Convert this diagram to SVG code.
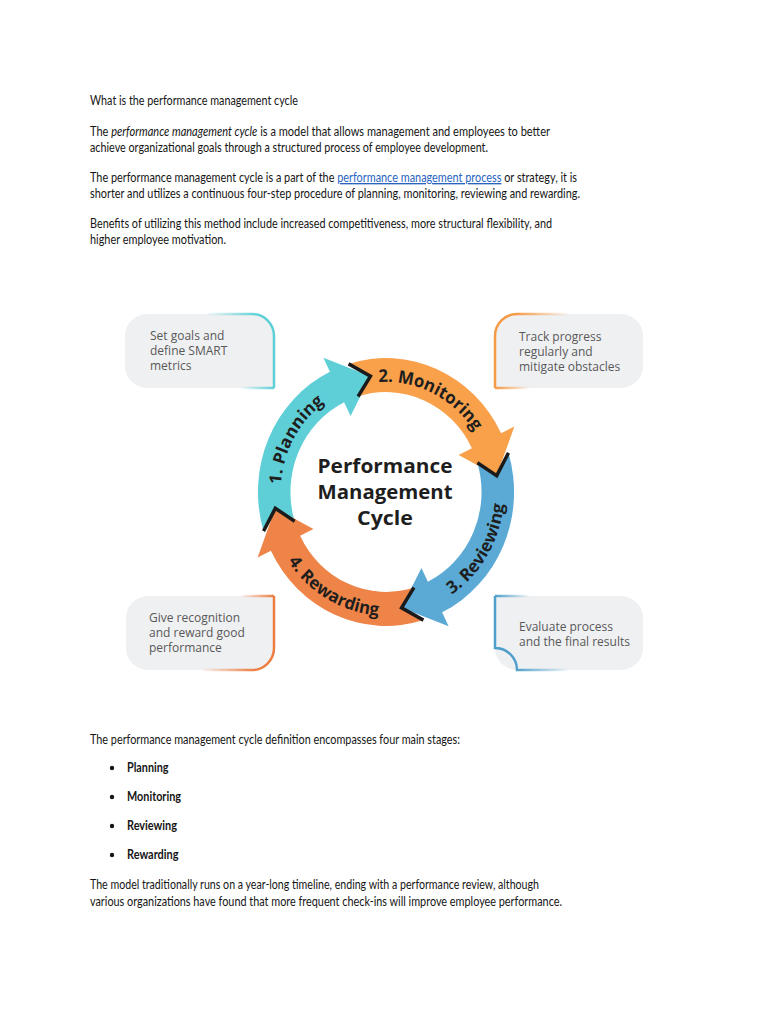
<svg xmlns="http://www.w3.org/2000/svg" width="768" height="1024" viewBox="0 0 768 1024">
<style>
.doc{font-family:Lato,"Liberation Sans",sans-serif;font-size:13.5px;fill:#151515}
.b{font-weight:700}
.it{font-style:italic}
.link{fill:#2a64c0;text-decoration:underline}
.box{fill:#eff0f2}
.bt{font-family:"Open Sans","Liberation Sans",sans-serif;font-size:12px;fill:#585858}
.arcT{font-family:"Open Sans","Liberation Sans",sans-serif;font-size:17px;font-weight:700;fill:#1e1e1e}
.ctr{font-family:"Open Sans","Liberation Sans",sans-serif;font-size:19.5px;font-weight:700;fill:#1e1e1e;text-anchor:middle}
.shadow{fill:none;stroke:#1b1b1b;stroke-width:3.5;stroke-linejoin:miter}
.bord{fill:none;stroke-width:2.5}
</style>
<defs>
<linearGradient id="gTeal" gradientUnits="userSpaceOnUse" x1="205" y1="0" x2="258" y2="0"><stop offset="0" stop-color="#5ecfd7" stop-opacity="0"/><stop offset="1" stop-color="#5ecfd7"/></linearGradient>
<linearGradient id="gTealB" gradientUnits="userSpaceOnUse" x1="240" y1="0" x2="274" y2="0"><stop offset="0" stop-color="#5ecfd7" stop-opacity="0"/><stop offset="1" stop-color="#5ecfd7"/></linearGradient>
<linearGradient id="gOr" gradientUnits="userSpaceOnUse" x1="515" y1="0" x2="570" y2="0"><stop offset="0" stop-color="#f59a45"/><stop offset="1" stop-color="#f59a45" stop-opacity="0"/></linearGradient>
<linearGradient id="gOrB" gradientUnits="userSpaceOnUse" x1="495" y1="0" x2="530" y2="0"><stop offset="0" stop-color="#f59a45"/><stop offset="1" stop-color="#f59a45" stop-opacity="0"/></linearGradient>
<linearGradient id="gRd" gradientUnits="userSpaceOnUse" x1="200" y1="0" x2="255" y2="0"><stop offset="0" stop-color="#ec7e42" stop-opacity="0"/><stop offset="1" stop-color="#ec7e42"/></linearGradient>
<linearGradient id="gRdT" gradientUnits="userSpaceOnUse" x1="240" y1="0" x2="274" y2="0"><stop offset="0" stop-color="#ec7e42" stop-opacity="0"/><stop offset="1" stop-color="#ec7e42"/></linearGradient>
<linearGradient id="gBl" gradientUnits="userSpaceOnUse" x1="515" y1="0" x2="570" y2="0"><stop offset="0" stop-color="#4f9fcb"/><stop offset="1" stop-color="#4f9fcb" stop-opacity="0"/></linearGradient>
<linearGradient id="gBlT" gradientUnits="userSpaceOnUse" x1="495" y1="0" x2="530" y2="0"><stop offset="0" stop-color="#4f9fcb"/><stop offset="1" stop-color="#4f9fcb" stop-opacity="0"/></linearGradient>
<path id="cw" d="M -107 0 A 107 107 0 0 1 107 0 A 107 107 0 0 1 -107 0"/>
<path id="ccw" d="M -120 0 A 120 120 0 0 0 120 0 A 120 120 0 0 0 -120 0"/>
</defs>
<rect width="768" height="1024" fill="#ffffff"/>

<g id="intro-text" class="doc">
<text x="90" y="105" textLength="208" lengthAdjust="spacingAndGlyphs">What is the performance management cycle</text>
<text x="90" y="136" textLength="460" lengthAdjust="spacingAndGlyphs">The <tspan class="it">performance management cycle</tspan> is a model that allows management and employees to better</text>
<text x="90" y="152" textLength="398" lengthAdjust="spacingAndGlyphs">achieve organizational goals through a structured process of employee development.</text>
<text x="90" y="182" textLength="487" lengthAdjust="spacingAndGlyphs">The performance management cycle is a part of the <tspan class="link">performance management process</tspan> or strategy, it is</text>
<text x="90" y="198" textLength="490" lengthAdjust="spacingAndGlyphs">shorter and utilizes a continuous four-step procedure of planning, monitoring, reviewing and rewarding.</text>
<text x="90" y="228" textLength="462" lengthAdjust="spacingAndGlyphs">Benefits of utilizing this method include increased competitiveness, more structural flexibility, and</text>
<text x="90" y="244" textLength="136" lengthAdjust="spacingAndGlyphs">higher employee motivation.</text>
</g>

<g id="box-planning">
<path class="box" d="M 147 314 H 252 A 22 22 0 0 1 274 336 V 388 H 147 A 22 22 0 0 1 125 366 V 336 A 22 22 0 0 1 147 314 Z"/>
<path class="bord" stroke="url(#gTeal)" d="M 200 314 H 252 A 22 22 0 0 1 274 336 V 388"/>
<path class="bord" stroke="url(#gTealB)" d="M 274 388 H 240"/>
<text class="bt" x="150" y="340">Set goals and</text>
<text class="bt" x="150" y="355">define SMART</text>
<text class="bt" x="150" y="370">metrics</text>
</g>
<g id="box-monitoring">
<path class="box" d="M 495 336 A 22 22 0 0 1 517 314 H 621 A 22 22 0 0 1 643 336 V 366 A 22 22 0 0 1 621 388 H 495 Z"/>
<path class="bord" stroke="url(#gOr)" d="M 495 388 V 336 A 22 22 0 0 1 517 314 H 575"/>
<path class="bord" stroke="url(#gOrB)" d="M 495 388 H 530"/>
<text class="bt" x="519" y="341">Track progress</text>
<text class="bt" x="519" y="356">regularly and</text>
<text class="bt" x="519" y="371">mitigate obstacles</text>
</g>
<g id="box-rewarding">
<path class="box" d="M 148 596 H 274 V 648 A 22 22 0 0 1 252 670 H 148 A 22 22 0 0 1 126 648 V 618 A 22 22 0 0 1 148 596 Z"/>
<path class="bord" stroke="url(#gRd)" d="M 274 596 V 648 A 22 22 0 0 1 252 670 H 195"/>
<path class="bord" stroke="url(#gRdT)" d="M 274 596 H 240"/>
<text class="bt" x="149" y="622">Give recognition</text>
<text class="bt" x="149" y="637">and reward good</text>
<text class="bt" x="149" y="652">performance</text>
</g>
<g id="box-reviewing">
<path class="box" d="M 495 596 H 621 A 22 22 0 0 1 643 618 V 648 A 22 22 0 0 1 621 670 H 517 A 22 22 0 0 1 495 648 Z"/>
<path class="bord" stroke="url(#gBl)" d="M 495 596 V 648 A 22 22 0 0 1 517 670 H 575"/>
<path class="bord" stroke="url(#gBlT)" d="M 495 596 H 530"/>
<text class="bt" x="519" y="631">Evaluate process</text>
<text class="bt" x="519" y="646">and the final results</text>
</g>

<g id="cycle" transform="translate(386,492) scale(0.985,1.03)">
<g id="stage-planning">
<path fill="#5ecfd7" d="M -124.32 38.01 A 130 130 0 0 1 -56.99 -116.84 L -63.56 -130.32 L -15.80 -112.40 L -35.95 -73.70 L -42.52 -87.18 A 97 97 0 0 0 -92.76 28.36 L -112.40 15.80 Z"/>
<text class="arcT"><textPath href="#cw" startOffset="54" text-anchor="middle">1. Planning</textPath></text>
</g>
<g id="stage-monitoring">
<path fill="#f8a04a" d="M -38.01 -124.32 A 130 130 0 0 1 116.84 -56.99 L 130.32 -63.56 L 112.40 -15.80 L 73.70 -35.95 L 87.18 -42.52 A 97 97 0 0 0 -28.36 -92.76 L -15.80 -112.40 Z"/>
<text class="arcT"><textPath href="#cw" startOffset="217" text-anchor="middle">2. Monitoring</textPath></text>
</g>
<g id="stage-reviewing">
<path fill="#5aaad5" d="M 124.32 -38.01 A 130 130 0 0 1 56.99 116.84 L 63.56 130.32 L 15.80 112.40 L 35.95 73.70 L 42.52 87.18 A 97 97 0 0 0 92.76 -28.36 L 112.40 -15.80 Z"/>
<text class="arcT"><textPath href="#ccw" startOffset="312" text-anchor="middle">3. Reviewing</textPath></text>
</g>
<g id="stage-rewarding">
<path fill="#ee8447" d="M 38.01 124.32 A 130 130 0 0 1 -116.84 56.99 L -130.32 63.56 L -112.40 15.80 L -73.70 35.95 L -87.18 42.52 A 97 97 0 0 0 28.36 92.76 L 15.80 112.40 Z"/>
<text class="arcT"><textPath href="#ccw" startOffset="126" text-anchor="middle">4. Rewarding</textPath></text>
</g>
<g id="shadows">
<polyline class="shadow" points="-124.32,38.01 -112.40,15.80 -92.76,28.36"/>
<polyline class="shadow" points="-38.01,-124.32 -15.80,-112.40 -28.36,-92.76"/>
<polyline class="shadow" points="124.32,-38.01 112.40,-15.80 92.76,-28.36"/>
<polyline class="shadow" points="38.01,124.32 15.80,112.40 28.36,92.76"/>
</g>
</g>

<g id="cycle-title">
<text class="ctr" x="385" y="473" textLength="135" lengthAdjust="spacingAndGlyphs">Performance</text>
<text class="ctr" x="385" y="499" textLength="135" lengthAdjust="spacingAndGlyphs">Management</text>
<text class="ctr" x="385" y="525" textLength="56" lengthAdjust="spacingAndGlyphs">Cycle</text>
</g>

<g id="stages-text" class="doc">
<text x="90" y="744" textLength="370" lengthAdjust="spacingAndGlyphs">The performance management cycle definition encompasses four main stages:</text>
<circle cx="112" cy="768" r="2.2" fill="#151515"/>
<circle cx="112" cy="797" r="2.2" fill="#151515"/>
<circle cx="112" cy="826" r="2.2" fill="#151515"/>
<circle cx="112" cy="855" r="2.2" fill="#151515"/>
<text class="b" x="127" y="772" textLength="41.5" lengthAdjust="spacingAndGlyphs">Planning</text>
<text class="b" x="127" y="801" textLength="54" lengthAdjust="spacingAndGlyphs">Monitoring</text>
<text class="b" x="127" y="830" textLength="50" lengthAdjust="spacingAndGlyphs">Reviewing</text>
<text class="b" x="127" y="859" textLength="51.5" lengthAdjust="spacingAndGlyphs">Rewarding</text>
<text x="90" y="889" textLength="449" lengthAdjust="spacingAndGlyphs">The model traditionally runs on a year-long timeline, ending with a performance review, although</text>
<text x="90" y="906" textLength="472" lengthAdjust="spacingAndGlyphs">various organizations have found that more frequent check-ins will improve employee performance.</text>
</g>
</svg>
